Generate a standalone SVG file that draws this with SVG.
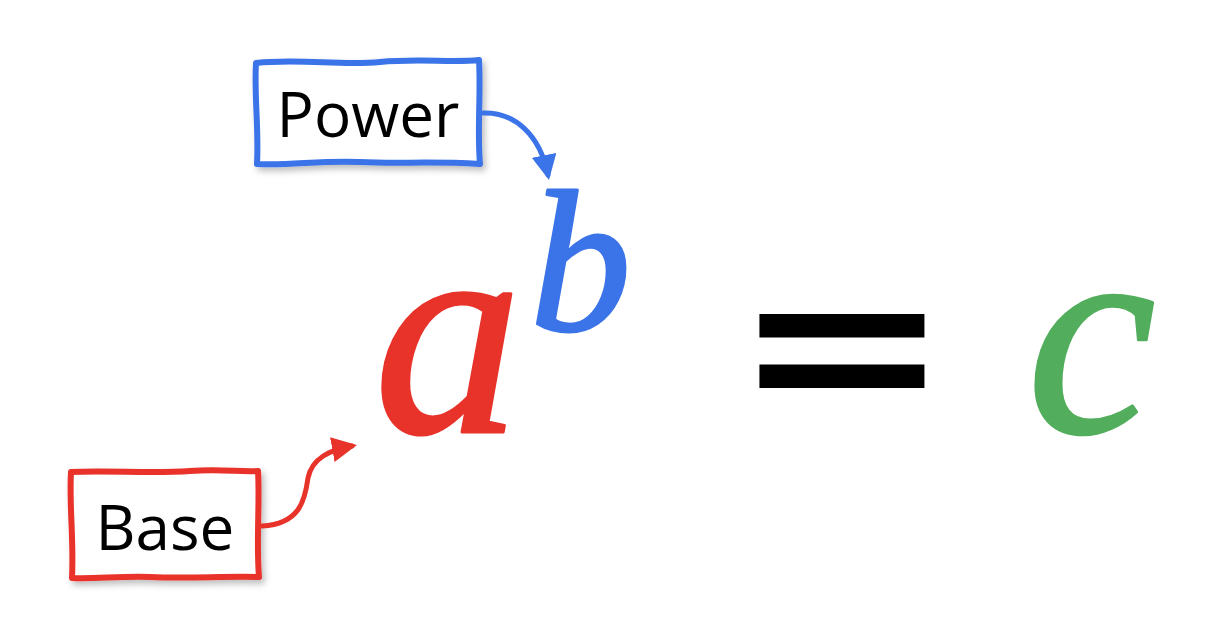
<svg xmlns="http://www.w3.org/2000/svg" width="1210" height="644" viewBox="0 0 1210 644">
<defs>
<style>
.box{fill:#fff;stroke-width:6;stroke-linejoin:round}
.lbl{font-family:"Open Sans","Liberation Sans",sans-serif;font-size:62px;fill:#000}
.math{font-family:"Liberation Serif",serif;font-style:italic;stroke-width:3;stroke-linejoin:round}
.conn{fill:none;stroke-width:5;stroke-linecap:round}
</style>
<filter id="sh" x="-10%" y="-10%" width="130%" height="130%"><feDropShadow dx="3" dy="4" stdDeviation="3" flood-color="#000" flood-opacity="0.25"/></filter>
<marker id="ab" viewBox="0 0 10 10" refX="8" refY="5" markerWidth="5" markerHeight="5" orient="auto" markerUnits="strokeWidth"><path d="M0,0 L10,5 L0,10 Z" fill="#3B73E8"/></marker>
<marker id="ar" viewBox="0 0 10 10" refX="8" refY="5" markerWidth="5" markerHeight="5" orient="auto" markerUnits="strokeWidth"><path d="M0,0 L10,5 L0,10 Z" fill="#E8332A"/></marker>
</defs>
<rect width="1210" height="644" fill="#fff"/>
<g id="power">
<path class="box" stroke="#3B73E8" filter="url(#sh)" d="M256,63 C300,58 340,66 380,62 C420,58 450,63 479,60 C481,95 477,130 480,164 C430,161 400,164 360,162 C320,160 290,166 257,164 C259,130 254,95 256,63 Z"/>
<text class="lbl" x="368" y="137" text-anchor="middle">Power</text>
</g>
<g id="base">
<path class="box" stroke="#E8332A" filter="url(#sh)" d="M71,472 C110,470 150,474 190,471 C220,469 240,472 258,471 C260,505 256,540 259,577 C220,576 190,579 150,577 C120,576 95,579 72,578 C74,540 69,505 71,472 Z"/>
<text class="lbl" x="165" y="550" text-anchor="middle">Base</text>
</g>
<g id="connectors">
<path class="conn" stroke="#3B73E8" marker-end="url(#ab)" d="M483,113 C515,112 540,135 548,175"/>
<path class="conn" stroke="#E8332A" marker-end="url(#ar)" d="M262,526 C300,524 305,500 308,478 C312,458 330,450 352,446"/>
</g>
<g id="expr">
<text class="math" x="374" y="432" font-size="296" fill="#E8332A" stroke="#E8332A">a</text>
<text class="math" x="530" y="330" font-size="202" fill="#3B73E8" stroke="#3B73E8">b</text>
<text transform="translate(842,417.5) scale(1.54,1)" x="0" y="0" font-size="202" font-family="Liberation Sans,sans-serif" text-anchor="middle" fill="#000" stroke="#000" stroke-width="9">=</text>
<text class="math" x="1027" y="432" font-size="290" fill="#52AE5C" stroke="#52AE5C">c</text>
</g>
</svg>
